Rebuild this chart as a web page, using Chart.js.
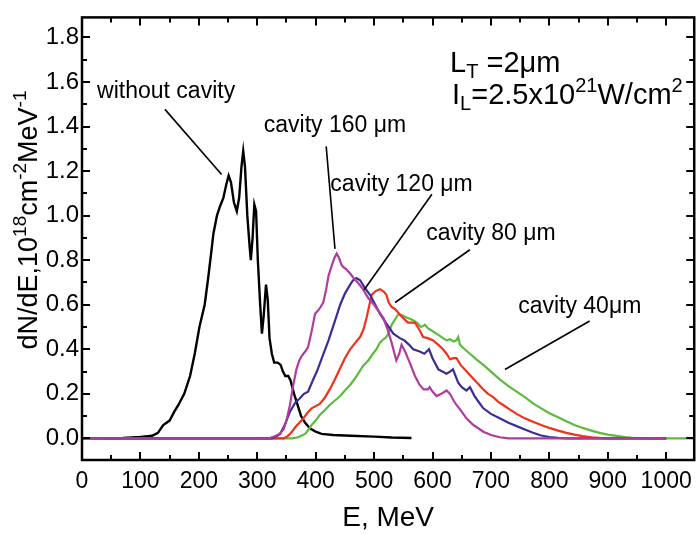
<!DOCTYPE html>
<html>
<head>
<meta charset="utf-8">
<script src="https://cdn.jsdelivr.net/npm/chart.js@4.4.1/dist/chart.umd.min.js"></script>
<style>
  html, body { margin: 0; padding: 0; background: #fff; }
</style>
</head>
<body>
<canvas id="myChart" width="700" height="534"></canvas>
<script>
// Spectra: E in MeV, dN/dE in 10^18 cm^-2 MeV^-1

let blackE = [40, 70, 100, 120, 130, 139, 150, 158, 165, 175, 185, 193, 201, 210, 216, 221, 225, 231, 236, 242, 247, 251, 255, 260, 265, 269, 273, 276, 279, 283, 287, 289, 292, 295, 298, 301, 305, 308, 311, 315, 318, 321, 325, 329, 335, 340, 344, 348, 353, 357, 363, 369, 375, 382, 390, 400, 410, 430, 460, 500, 530, 564];
let blackN = [0, 0.002, 0.006, 0.012, 0.025, 0.06, 0.08, 0.12, 0.15, 0.2, 0.28, 0.38, 0.5, 0.6, 0.72, 0.83, 0.92, 1.0, 1.04, 1.08, 1.14, 1.18, 1.15, 1.06, 1.02, 1.08, 1.22, 1.29, 1.22, 1.0, 0.86, 0.8, 0.9, 1.05, 1.02, 0.8, 0.6, 0.47, 0.55, 0.69, 0.62, 0.45, 0.38, 0.34, 0.34, 0.33, 0.3, 0.28, 0.28, 0.26, 0.2, 0.15, 0.1, 0.07, 0.045, 0.03, 0.02, 0.015, 0.012, 0.008, 0.004, 0.002];

let cav160E = [0, 320, 330, 338, 345, 350, 356, 361, 367, 372, 376, 382, 387, 393, 399, 406, 413, 418, 422, 428, 432, 436, 440, 444, 447, 452, 459, 465, 472, 481, 490, 500, 508, 516, 523, 530, 538, 543, 547, 553, 561, 570, 578, 585, 592, 595, 600, 607, 615, 624, 630, 636, 641, 650, 658, 670, 687, 700, 715, 730, 1000];
let cav160N = [0, 0, 0.01, 0.02, 0.04, 0.08, 0.15, 0.23, 0.31, 0.35, 0.37, 0.39, 0.41, 0.48, 0.56, 0.58, 0.61, 0.67, 0.73, 0.78, 0.81, 0.83, 0.81, 0.78, 0.77, 0.76, 0.74, 0.72, 0.7, 0.67, 0.63, 0.6, 0.57, 0.54, 0.49, 0.43, 0.35, 0.38, 0.42, 0.39, 0.34, 0.28, 0.24, 0.22, 0.22, 0.23, 0.21, 0.19, 0.2, 0.215, 0.2, 0.17, 0.15, 0.12, 0.09, 0.06, 0.03, 0.015, 0.005, 0, 0];

let cav120E = [0, 325, 333, 339, 347, 356, 365, 373, 380, 387, 395, 402, 412, 422, 432, 442, 450, 459, 464, 470, 476, 483, 493, 502, 510, 520, 533, 544, 552, 560, 567, 578, 586, 594, 600, 610, 617, 624, 630, 635, 644, 650, 658, 664, 672, 680, 687, 700, 715, 730, 744, 758, 772, 786, 800, 815, 830, 1000];
let cav120N = [0, 0, 0.01, 0.02, 0.06, 0.12, 0.16, 0.18, 0.2, 0.21, 0.26, 0.3, 0.37, 0.44, 0.52, 0.6, 0.65, 0.69, 0.71, 0.72, 0.71, 0.68, 0.645, 0.6, 0.56, 0.52, 0.47, 0.45, 0.44, 0.42, 0.4, 0.39, 0.38, 0.4, 0.36, 0.31, 0.3, 0.29, 0.3, 0.31, 0.25, 0.23, 0.215, 0.23, 0.19, 0.16, 0.135, 0.11, 0.09, 0.07, 0.055, 0.04, 0.025, 0.013, 0.006, 0.002, 0, 0];

let cav80E = [0, 345, 352, 358, 365, 372, 379, 386, 393, 400, 407, 415, 424, 432, 441, 450, 459, 468, 476, 482, 487, 492, 496, 502, 510, 516, 521, 525, 530, 536, 541, 550, 558, 564, 570, 577, 584, 592, 601, 610, 618, 624, 630, 636, 641, 648, 655, 662, 669, 678, 687, 695, 704, 712, 721, 732, 744, 758, 772, 786, 800, 815, 829, 843, 857, 872, 886, 900, 1000];
let cav80N = [0, 0, 0.01, 0.025, 0.05, 0.07, 0.09, 0.115, 0.135, 0.145, 0.155, 0.18, 0.22, 0.26, 0.31, 0.36, 0.4, 0.43, 0.455, 0.49, 0.54, 0.6, 0.645, 0.66, 0.67, 0.66, 0.645, 0.61, 0.59, 0.58, 0.565, 0.54, 0.52, 0.52, 0.52, 0.49, 0.455, 0.45, 0.44, 0.42, 0.4, 0.38, 0.355, 0.36, 0.36, 0.33, 0.31, 0.29, 0.27, 0.245, 0.22, 0.2, 0.185, 0.165, 0.15, 0.13, 0.11, 0.09, 0.075, 0.06, 0.047, 0.035, 0.025, 0.017, 0.01, 0.005, 0.002, 0, 0];

let cav40E = [0, 360, 370, 382, 388, 393, 400, 407, 415, 424, 433, 442, 450, 459, 470, 481, 490, 498, 504, 510, 516, 521, 526, 530, 536, 541, 546, 550, 558, 567, 575, 580, 584, 587, 592, 601, 610, 618, 624, 630, 636, 641, 644, 647, 655, 664, 675, 687, 700, 715, 730, 744, 758, 772, 786, 800, 815, 829, 843, 857, 872, 886, 900, 915, 930, 943, 960, 975, 1048];
let cav40N = [0, 0, 0.005, 0.02, 0.04, 0.06, 0.08, 0.105, 0.125, 0.15, 0.17, 0.19, 0.215, 0.24, 0.28, 0.325, 0.35, 0.38, 0.4, 0.43, 0.445, 0.455, 0.48, 0.51, 0.535, 0.555, 0.555, 0.55, 0.54, 0.53, 0.515, 0.5, 0.505, 0.51, 0.495, 0.48, 0.465, 0.45, 0.44, 0.445, 0.435, 0.44, 0.455, 0.42, 0.4, 0.38, 0.355, 0.33, 0.3, 0.265, 0.235, 0.21, 0.185, 0.157, 0.135, 0.113, 0.095, 0.077, 0.06, 0.047, 0.035, 0.025, 0.017, 0.011, 0.006, 0.003, 0.001, 0, 0];

let xTicks = [0, 100, 200, 300, 400, 500, 600, 700, 800, 900, 1000];
let yTicks = [0.0, 0.2, 0.4, 0.6, 0.8, 1.0, 1.2, 1.4, 1.6, 1.8];

// label text, label position [E, N], leader line from [E, N] to [E, N]
let notes = [
  ['without cavity', [144, 1.555], [142, 1.477], [239, 1.185]],
  ['cavity 160 \u03bcm', [433, 1.403], [418, 1.311], [433, 0.851]],
  ['cavity 120 \u03bcm', [547, 1.14], [599, 1.096], [483, 0.667]],
  ['cavity 80 \u03bcm', [700, 0.917], [664, 0.847], [536, 0.61]],
  ['cavity 40\u03bcm', [852, 0.593], [869, 0.527], [724, 0.309]]
];

const FONT = 'Liberation Sans, Arial, sans-serif';

function pts(xs, ys) {
  return xs.map((v, i) => ({ x: v, y: ys[i] }));
}

// draws pieces of text [string, size, raise] one after another
function richText(ctx, parts, x, y, align) {
  let total = 0;
  parts.forEach(p => {
    ctx.font = p[1] + 'px ' + FONT;
    total += ctx.measureText(p[0]).width;
  });
  let cx = align === 'center' ? x - total / 2 : x;
  ctx.textAlign = 'left';
  ctx.textBaseline = 'alphabetic';
  parts.forEach(p => {
    ctx.font = p[1] + 'px ' + FONT;
    ctx.fillText(p[0], cx, y - p[2]);
    cx += ctx.measureText(p[0]).width;
  });
}

const frame = {
  id: 'frame',
  afterDraw(chart) {
    const { ctx, chartArea: a, scales: { x, y } } = chart;
    ctx.save();
    ctx.strokeStyle = '#000';
    ctx.fillStyle = '#000';

    // inward ticks on all four sides
    ctx.lineWidth = 2;
    ctx.beginPath();
    for (let v = 0; v <= 1000; v += 50) {
      const px = Math.round(x.getPixelForValue(v));
      const len = v % 100 === 0 ? 8 : 5;
      ctx.moveTo(px, a.bottom); ctx.lineTo(px, a.bottom - len);
      ctx.moveTo(px, a.top); ctx.lineTo(px, a.top + len);
    }
    for (let k = 0; k <= 18; k++) {
      const py = Math.round(y.getPixelForValue(k / 10));
      const len = k % 2 === 0 ? 8 : 5;
      ctx.moveTo(a.left, py); ctx.lineTo(a.left + len, py);
      ctx.moveTo(a.right, py); ctx.lineTo(a.right - len, py);
    }
    ctx.stroke();

    ctx.lineWidth = 2.5;
    ctx.strokeRect(a.left, a.top, a.right - a.left, a.bottom - a.top);

    // curve labels with leader lines
    ctx.lineWidth = 1.6;
    notes.forEach(n => {
      ctx.beginPath();
      ctx.moveTo(x.getPixelForValue(n[2][0]), y.getPixelForValue(n[2][1]));
      ctx.lineTo(x.getPixelForValue(n[3][0]), y.getPixelForValue(n[3][1]));
      ctx.stroke();
      ctx.font = '23px ' + FONT;
      ctx.textAlign = 'center';
      ctx.textBaseline = 'middle';
      ctx.fillText(n[0], x.getPixelForValue(n[1][0]), y.getPixelForValue(n[1][1]));
    });

    // parameters box text
    const tx = x.getPixelForValue(630);
    richText(ctx, [['L', 29, 0], ['T', 20, -6], [' =2\u03bcm', 29, 0]], tx, y.getPixelForValue(1.643), 'left');
    richText(ctx, [['I', 29, 0], ['L', 20, -6], ['=2.5x10', 29, 0], ['21', 20, 12], ['W/cm', 29, 0], ['2', 20, 12]],
      tx + 2, y.getPixelForValue(1.499), 'left');

    // axis titles
    richText(ctx, [['E, MeV', 28, 0]], (a.left + a.right) / 2, 526, 'center');
    ctx.translate(37, 220);
    ctx.rotate(-Math.PI / 2);
    richText(ctx, [['dN/dE,10', 27, 0], ['18', 19, 11], ['cm', 27, 0], ['-2', 19, 11], ['MeV', 27, 0], ['-1', 19, 11]], 0, 0, 'center');
    ctx.restore();
  }
};

let ctx = document.getElementById('myChart').getContext('2d');
// eslint-disable-next-line no-undef
let myChart = new Chart(ctx, {
  type: 'line',
  data: {
    datasets: [
      { label: 'cavity 160 \u03bcm', data: pts(cav160E, cav160N), borderColor: '#b23a9e' },
      { label: 'cavity 120 \u03bcm', data: pts(cav120E, cav120N), borderColor: '#3b2d96' },
      { label: 'cavity 80 \u03bcm', data: pts(cav80E, cav80N), borderColor: '#f3301c' },
      { label: 'cavity 40\u03bcm', data: pts(cav40E, cav40N), borderColor: '#5dbb3c' },
      { label: 'without cavity', data: pts(blackE, blackN), borderColor: '#000000', borderWidth: 2.4 }
    ]
  },
  options: {
    responsive: false,
    animation: false,
    layout: { padding: { top: 3, right: 5, left: 0, bottom: 0 } },
    elements: {
      point: { radius: 0 },
      line: { borderWidth: 2.2, tension: 0, fill: false }
    },
    plugins: {
      legend: { display: false },
      tooltip: { enabled: false }
    },
    scales: {
      x: {
        type: 'linear',
        min: 0,
        max: 1048,
        grid: { display: false, drawTicks: false },
        border: { display: false },
        afterBuildTicks(s) { s.ticks = xTicks.map(v => ({ value: v })); },
        afterFit(s) { s.height = 74; },
        ticks: {
          autoSkip: false,
          maxRotation: 0,
          padding: 8,
          color: '#000',
          font: { family: FONT, size: 23 },
          callback: v => String(v)
        }
      },
      y: {
        min: -0.097,
        max: 1.89,
        grid: { display: false, drawTicks: false },
        border: { display: false },
        afterBuildTicks(s) { s.ticks = yTicks.map(v => ({ value: v })); },
        afterFit(s) { s.width = 82; },
        ticks: {
          autoSkip: false,
          padding: 3,
          color: '#000',
          font: { family: FONT, size: 24 },
          callback: v => v.toFixed(1)
        }
      }
    }
  },
  plugins: [frame]
});
</script>
</body>
</html>
